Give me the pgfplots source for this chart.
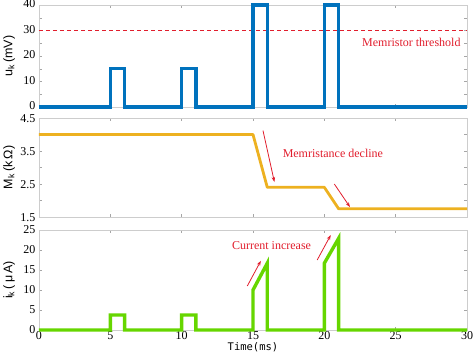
\documentclass[border=0pt]{standalone}
\usepackage{fontspec}
\setmainfont{Liberation Serif}
\setsansfont{Liberation Sans}
\setmonofont{DejaVu Sans Mono}
\usepackage{pgfplots}
\pgfplotsset{compat=1.18}
\usetikzlibrary{arrows.meta}
\definecolor{mblue}{RGB}{0,114,189}
\definecolor{morange}{RGB}{237,177,32}
\definecolor{mgreen}{RGB}{102,214,0}
\definecolor{mred}{RGB}{225,30,45}
\definecolor{framec}{RGB}{205,205,205}
\tikzset{
  annot/.style={mred, font=\fontsize{12}{14}\selectfont},
  arr/.style={mred, line width=0.8pt, -{Stealth[length=5pt,width=3.5pt]}},
}
\pgfplotsset{
  mystyle/.style={
    scale only axis, width=428pt,
    xmin=0, xmax=30, xtick={0,5,...,30},
    axis line style={framec},
    tick style={color=gray!70, line width=0.4pt},
    major tick length=3pt, minor tick length=3pt,
    tick align=inside, clip=false,
    ticklabel style={font=\fontsize{12}{14}\selectfont},
    /pgf/number format/assume math mode=true,
    ylabel style={font=\sffamily\fontsize{12.5}{14}\selectfont, at={(axis description cs:-0.07,0.5)}, anchor=center},
  },
}
\begin{document}
\begin{tikzpicture}
\path[use as bounding box] (-39pt,0pt) rectangle (435pt,-357pt);
% top panel
\begin{axis}[mystyle, at={(0pt,-5pt)}, anchor=north west, height=102pt,
  ymin=0, ymax=40, ytick={0,10,20,30,40}, minor y tick num=1,
  xticklabels={}, ylabel={u\textsubscript{k}\,(mV)},
  yticklabel style={yshift=1pt}]
\addplot[mred, line width=0.9pt, dash pattern=on 4pt off 3pt] coordinates {(0,30) (30,30)};
\addplot[mblue, line width=3.2pt, line join=miter] coordinates {
(0,0)(5,0)(5,15)(6,15)(6,0)(10,0)(10,15)(11,15)(11,0)(15,0)(15,40)(16,40)(16,0)(20,0)(20,40)(21,40)(21,0)(30,0)};
\node[annot] at (axis cs:26.1,25.3) {Memristor threshold};
\end{axis}
% middle panel
\begin{axis}[mystyle, at={(0pt,-118pt)}, anchor=north west, height=99pt,
  ymin=1.5, ymax=4.5, ytick={1.5,2,2.5,3,3.5,4,4.5}, yticklabels={1.5,,2.5,,3.5,,4.5},
  xticklabels={}, ylabel={M\textsubscript{k}\,(k\,Ω)},
  yticklabel style={yshift=-1pt}]
\addplot[morange, line width=2.8pt, line join=round] coordinates {
(0,4)(15,4)(16,2.4)(20,2.4)(21,1.75)(30,1.75)};
\node[annot] at (axis cs:20.6,3.44) {Memristance decline};
\draw[arr] (axis cs:15.7,4.12) -- (axis cs:16.5,2.56);
\draw[arr] (axis cs:20.7,2.5) -- (axis cs:21.8,1.8);
\end{axis}
% bottom panel
\begin{axis}[mystyle, at={(0pt,-230pt)}, anchor=north west, height=100pt,
  ymin=0, ymax=25, ytick={0,5,...,25},
  xlabel={Time(ms)}, xlabel style={font=\ttfamily\fontsize{10.5}{12}\selectfont, yshift=4pt},
  xticklabel style={yshift=2pt},
  ylabel={i\textsubscript{k}\,(\,μ\,A)}]
\addplot[mgreen, line width=3.4pt, line join=miter] coordinates {
(0,0)(5,0)(5,3.75)(6,3.75)(6,0)(10,0)(10,3.75)(11,3.75)(11,0)(15,0)(15,10)(16,16.7)(16,0)(20,0)(20,16.7)(21,22.9)(21,0)(30,0)};
\node[annot] at (axis cs:16.3,21) {Current increase};
\draw[arr] (axis cs:14.6,11) -- (axis cs:15.55,17.3);
\draw[arr] (axis cs:19.5,17.5) -- (axis cs:20.45,23.75);
\end{axis}
\end{tikzpicture}
\end{document}
